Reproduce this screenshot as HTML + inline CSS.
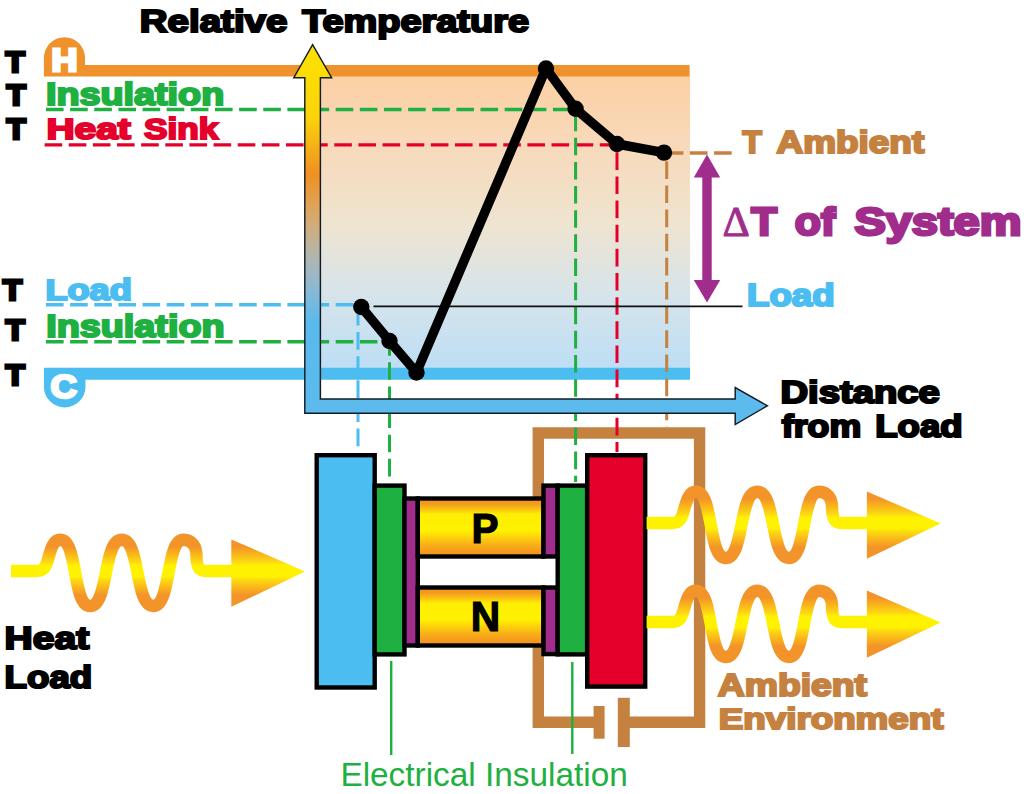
<!DOCTYPE html>
<html lang="en"><head><meta charset="utf-8"><title>Thermoelectric system temperature profile</title>
<style>
html,body{margin:0;padding:0;background:#fff;}
body{width:1024px;height:794px;overflow:hidden;font-family:"Liberation Sans",sans-serif;}
svg{display:block;font-family:"Liberation Sans",sans-serif;}
</style></head><body>
<svg width="1024" height="794" viewBox="0 0 1024 794">
<defs>
<linearGradient id="bg" x1="0" y1="0" x2="0" y2="1">
<stop offset="0" stop-color="#FBD0A4"/><stop offset="0.15" stop-color="#FAD6B3"/><stop offset="0.5" stop-color="#EFE4D0"/><stop offset="0.75" stop-color="#D6E4EA"/><stop offset="1" stop-color="#BDDEF5"/></linearGradient>
<linearGradient id="axis" gradientUnits="userSpaceOnUse" x1="0" y1="44" x2="0" y2="426">
<stop offset="0" stop-color="#FCE200"/><stop offset="0.19" stop-color="#FBD40A"/><stop offset="0.34" stop-color="#F09022"/><stop offset="0.408" stop-color="#E2A04E"/><stop offset="0.474" stop-color="#D2AC7A"/><stop offset="0.54" stop-color="#B8B5A5"/><stop offset="0.605" stop-color="#9CB8C6"/><stop offset="0.67" stop-color="#7BB9DD"/><stop offset="0.73" stop-color="#5ABAEC"/><stop offset="1" stop-color="#5CBBEC"/></linearGradient>
<linearGradient id="bar" x1="0" y1="0" x2="0" y2="1">
<stop offset="0" stop-color="#F29222"/><stop offset="0.09" stop-color="#F39A20"/><stop offset="0.2" stop-color="#FBC80F"/><stop offset="0.27" stop-color="#FFEE05"/><stop offset="0.55" stop-color="#FFF200"/><stop offset="0.66" stop-color="#FDD50B"/><stop offset="0.8" stop-color="#F9AE18"/><stop offset="0.92" stop-color="#F4981F"/><stop offset="1" stop-color="#F29222"/></linearGradient>
<linearGradient id="heat" gradientUnits="userSpaceOnUse" x1="0" y1="531.0" x2="0" y2="611.0"><stop offset="0" stop-color="#F3942A"/><stop offset="0.2000" stop-color="#F3942A"/><stop offset="0.2625" stop-color="#F8AB1D"/><stop offset="0.3250" stop-color="#FBC118"/><stop offset="0.3875" stop-color="#FDD912"/><stop offset="0.4313" stop-color="#FFF200"/><stop offset="0.5687" stop-color="#FFF200"/><stop offset="0.6125" stop-color="#FDD912"/><stop offset="0.6750" stop-color="#FBC118"/><stop offset="0.7375" stop-color="#F8AB1D"/><stop offset="0.8000" stop-color="#F3942A"/><stop offset="1" stop-color="#F3942A"/></linearGradient>
<g id="heatwave"><path d="M11,571.0 L36.5,571.0 C43.64,571.0 46.02,566.94 48.16,558.83 C51.26,547.29 53.64,539.8 60.3,539.8 C78.12,539.8 72.18,606.0 90.0,606.0 C109.08,606.0 102.72,539.8 121.8,539.8 C140.70,539.8 134.40,606.0 153.3,606.0 C171.48,606.0 165.42,539.8 183.6,539.8 C191.58,539.8 196.52,546.04 196.52,556.02 C196.52,566.63 198.80,571.0 205.45,571.0 L232.5,571.0" fill="none" stroke="url(#heat)" stroke-width="12.4" stroke-linejoin="round"/><polygon points="231.3,539.4 305,571.4 231.3,606.8" fill="url(#heat)"/></g>
</defs>
<rect x="0" y="0" width="1024" height="794" fill="#fff"/>
<rect x="320" y="76" width="370" height="293" fill="url(#bg)"/>
<path d="M43.9,76.6 L43.9,57.8 A20.55,20.5 0 0 1 85,57.8 L85,65.1 L689.6,65.1 L689.6,76.6 Z" fill="#F0922B"/>
<path d="M43.9,367.8 L690,367.8 L690,379.7 L85.5,379.7 L85.5,386.8 A20.8,20.6 0 0 1 43.9,386.8 Z" fill="#4CBDF0"/>
<g fill="none" stroke-width="3.4" stroke-dasharray="17.6 6.54">
<path d="M46,109.5 H575" stroke="#1EB040"/>
<path d="M44.6,144.9 H616" stroke="#E4002B"/>
<path d="M46,304.7 H360" stroke="#4CBDF0"/>
<path d="M46,341.8 H389" stroke="#1EB040"/>
<path d="M665.8,153 H731.7" stroke="#C5813F"/>
</g>
<path d="M538.3,500 V433 H699.6 V722.3 H629" fill="none" stroke="#C5813F" stroke-width="11.4"/>
<path d="M538.3,645 V722.3 H594" fill="none" stroke="#C5813F" stroke-width="11.4"/>
<rect x="593.6" y="706" width="11" height="32.7" fill="#C5813F"/>
<rect x="617.8" y="697.8" width="12" height="49.2" fill="#C5813F"/>
<g fill="none" stroke-width="3" stroke-dasharray="17.6 6.54">
<path d="M358,307.9 V446.2" stroke="#4CBDF0"/>
<path d="M389.5,338.1 V478" stroke="#1EB040"/>
<path d="M575.6,113.6 V482" stroke="#1EB040"/>
<path d="M617,152.3 V452" stroke="#E4002B"/>
<path d="M666.7,161.3 V427" stroke="#C5813F"/>
</g>
<path d="M373.5,306.3 H742.5" stroke="#111" stroke-width="1.8" fill="none"/>
<path d="M312.6,44.6 L331.6,77.7 L320.4,77.7 L320.4,398.9 L735.2,398.9 L735.2,387.6 L767.4,405.8 L735.2,424.6 L735.2,413.2 L304.8,413.2 L304.8,77.7 L293.8,77.7 Z" fill="url(#axis)" stroke="#131c24" stroke-width="1.45" stroke-linejoin="miter"/>
<polyline points="361.3,307 389.5,341 416.5,372.5 546,68.5 575.6,108.8 617,144 664,152.6" fill="none" stroke="#000" stroke-width="9.5" stroke-linejoin="round" stroke-linecap="round"/>
<circle cx="361.3" cy="307" r="8.2" fill="#000"/><circle cx="389.5" cy="341" r="8.2" fill="#000"/><circle cx="416.5" cy="372.5" r="8.2" fill="#000"/><circle cx="546" cy="68.5" r="8.2" fill="#000"/><circle cx="575.6" cy="108.8" r="8.2" fill="#000"/><circle cx="617" cy="144" r="8.2" fill="#000"/><circle cx="664" cy="152.6" r="8.2" fill="#000"/>
<path d="M707,154.6 L720.2,177.5 L711.7,177.5 L711.7,280 L720.2,280 L707,302.6 L693.8,280 L702.3,280 L702.3,177.5 L693.8,177.5 Z" fill="#A02C8C"/>
<rect x="316.7" y="455.2" width="58" height="232.3" fill="#4CBDF0" stroke="#000" stroke-width="4.4"/>
<rect x="374.7" y="485.6" width="29.8" height="168.8" fill="#1EB040" stroke="#000" stroke-width="4.4"/>
<rect x="404.5" y="498.5" width="13.3" height="147" fill="#A02C8C" stroke="#000" stroke-width="4.4"/>
<rect x="417.8" y="498.5" width="125.7" height="58" fill="url(#bar)" stroke="#000" stroke-width="4.4"/>
<rect x="417.8" y="587.5" width="125.7" height="58" fill="url(#bar)" stroke="#000" stroke-width="4.4"/>
<rect x="543.5" y="485.6" width="14.2" height="70.9" fill="#A02C8C" stroke="#000" stroke-width="4.4"/>
<rect x="543.5" y="587.5" width="14.2" height="66.6" fill="#A02C8C" stroke="#000" stroke-width="4.4"/>
<rect x="557.7" y="485.6" width="29.4" height="168.8" fill="#1EB040" stroke="#000" stroke-width="4.4"/>
<rect x="587.2" y="455.2" width="58" height="231.4" fill="#E4002B" stroke="#000" stroke-width="4.4"/>
<text x="471.6" y="543.45" font-size="42.03" font-weight="bold" fill="#000" stroke="#000" stroke-width="1.2" stroke-linejoin="miter" stroke-miterlimit="3" textLength="27.0" lengthAdjust="spacingAndGlyphs">P</text>
<text x="470.8" y="630.75" font-size="42.61" font-weight="bold" fill="#000" stroke="#000" stroke-width="1.2" stroke-linejoin="miter" stroke-miterlimit="3" textLength="29.4" lengthAdjust="spacingAndGlyphs">N</text>
<use href="#heatwave" transform="translate(635.6,-48)"/>
<use href="#heatwave" transform="translate(635.6,51)"/>
<use href="#heatwave"/>
<path d="M391.2,661 V755 M572.3,662 V754" stroke="#1EB040" stroke-width="2.4" fill="none"/>
<text x="139.8" y="31.9" font-size="31.01" font-weight="bold" fill="#000" stroke="#000" stroke-width="2.1" stroke-linejoin="miter" stroke-miterlimit="3" textLength="147.6" lengthAdjust="spacingAndGlyphs">Relative</text>
<text x="302.2" y="31.9" font-size="31.01" font-weight="bold" fill="#000" stroke="#000" stroke-width="2.1" stroke-linejoin="miter" stroke-miterlimit="3" textLength="226.8" lengthAdjust="spacingAndGlyphs">Temperature</text>
<text x="5.6" y="72.15" font-size="30.29" font-weight="bold" fill="#000" stroke="#000" stroke-width="2.8" stroke-linejoin="miter" stroke-miterlimit="3" textLength="19.4" lengthAdjust="spacingAndGlyphs">T</text>
<text x="6.5" y="105.25" font-size="30.29" font-weight="bold" fill="#000" stroke="#000" stroke-width="2.8" stroke-linejoin="miter" stroke-miterlimit="3" textLength="19.4" lengthAdjust="spacingAndGlyphs">T</text>
<text x="6.5" y="139.35" font-size="30.29" font-weight="bold" fill="#000" stroke="#000" stroke-width="2.8" stroke-linejoin="miter" stroke-miterlimit="3" textLength="19.4" lengthAdjust="spacingAndGlyphs">T</text>
<text x="2.7" y="300.15" font-size="30.29" font-weight="bold" fill="#000" stroke="#000" stroke-width="2.8" stroke-linejoin="miter" stroke-miterlimit="3" textLength="19.4" lengthAdjust="spacingAndGlyphs">T</text>
<text x="5.5" y="340.45" font-size="30.29" font-weight="bold" fill="#000" stroke="#000" stroke-width="2.8" stroke-linejoin="miter" stroke-miterlimit="3" textLength="19.4" lengthAdjust="spacingAndGlyphs">T</text>
<text x="5.6" y="384.75" font-size="30.29" font-weight="bold" fill="#000" stroke="#000" stroke-width="2.8" stroke-linejoin="miter" stroke-miterlimit="3" textLength="19.4" lengthAdjust="spacingAndGlyphs">T</text>
<text x="51.4" y="70.75" font-size="30.72" font-weight="bold" fill="#fff" stroke="#fff" stroke-width="2.8" stroke-linejoin="miter" stroke-miterlimit="3" textLength="26.0" lengthAdjust="spacingAndGlyphs">H</text>
<text x="50.4" y="397.65" font-size="33.77" font-weight="bold" fill="#fff" stroke="#fff" stroke-width="2.6" stroke-linejoin="miter" stroke-miterlimit="3" textLength="26.4" lengthAdjust="spacingAndGlyphs">C</text>
<text x="46.0" y="104.5" font-size="30.87" font-weight="bold" fill="#1EB040" stroke="#1EB040" stroke-width="2.1" stroke-linejoin="miter" stroke-miterlimit="3" textLength="178.2" lengthAdjust="spacingAndGlyphs">Insulation</text>
<text x="46.4" y="139.2" font-size="30.29" font-weight="bold" fill="#E4002B" stroke="#E4002B" stroke-width="2.1" stroke-linejoin="miter" stroke-miterlimit="3" textLength="84.4" lengthAdjust="spacingAndGlyphs">Heat</text>
<text x="144.0" y="139.2" font-size="30.29" font-weight="bold" fill="#E4002B" stroke="#E4002B" stroke-width="2.1" stroke-linejoin="miter" stroke-miterlimit="3" textLength="74.2" lengthAdjust="spacingAndGlyphs">Sink</text>
<text x="45.4" y="300.1" font-size="29.13" font-weight="bold" fill="#4CBDF0" stroke="#4CBDF0" stroke-width="2.1" stroke-linejoin="miter" stroke-miterlimit="3" textLength="86.4" lengthAdjust="spacingAndGlyphs">Load</text>
<text x="46.3" y="336.8" font-size="30.87" font-weight="bold" fill="#1EB040" stroke="#1EB040" stroke-width="2.1" stroke-linejoin="miter" stroke-miterlimit="3" textLength="178.2" lengthAdjust="spacingAndGlyphs">Insulation</text>
<text x="742.4" y="153.0" font-size="30.43" font-weight="bold" fill="#C5813F" stroke="#C5813F" stroke-width="2.1" stroke-linejoin="miter" stroke-miterlimit="3" textLength="19.4" lengthAdjust="spacingAndGlyphs">T</text>
<text x="776.6" y="153.0" font-size="30.43" font-weight="bold" fill="#C5813F" stroke="#C5813F" stroke-width="2.1" stroke-linejoin="miter" stroke-miterlimit="3" textLength="147.6" lengthAdjust="spacingAndGlyphs">Ambient</text>
<text x="722.6" y="236" font-size="42.5" font-family="'Liberation Serif',serif" fill="#A02C8C" stroke="#A02C8C" stroke-width="0.9">Δ</text>
<text x="751.2" y="234.85" font-size="39.42" font-weight="bold" fill="#A02C8C" stroke="#A02C8C" stroke-width="2.8" stroke-linejoin="miter" stroke-miterlimit="3" textLength="25.8" lengthAdjust="spacingAndGlyphs">T</text>
<text x="794.8" y="234.85" font-size="39.42" font-weight="bold" fill="#A02C8C" stroke="#A02C8C" stroke-width="2.8" stroke-linejoin="miter" stroke-miterlimit="3" textLength="40.4" lengthAdjust="spacingAndGlyphs">of</text>
<text x="854.4" y="234.65" font-size="38.84" font-weight="bold" fill="#A02C8C" stroke="#A02C8C" stroke-width="2.8" stroke-linejoin="miter" stroke-miterlimit="3" textLength="167.0" lengthAdjust="spacingAndGlyphs">System</text>
<text x="747.0" y="305.8" font-size="30.87" font-weight="bold" fill="#4CBDF0" stroke="#4CBDF0" stroke-width="2.1" stroke-linejoin="miter" stroke-miterlimit="3" textLength="87.6" lengthAdjust="spacingAndGlyphs">Load</text>
<text x="780.4" y="403.0" font-size="30.43" font-weight="bold" fill="#000" stroke="#000" stroke-width="2.1" stroke-linejoin="miter" stroke-miterlimit="3" textLength="159.4" lengthAdjust="spacingAndGlyphs">Distance</text>
<text x="781.8" y="436.5" font-size="30.58" font-weight="bold" fill="#000" stroke="#000" stroke-width="2.1" stroke-linejoin="miter" stroke-miterlimit="3" textLength="79.4" lengthAdjust="spacingAndGlyphs">from</text>
<text x="875.2" y="436.5" font-size="30.58" font-weight="bold" fill="#000" stroke="#000" stroke-width="2.1" stroke-linejoin="miter" stroke-miterlimit="3" textLength="87.4" lengthAdjust="spacingAndGlyphs">Load</text>
<text x="4.6" y="648.8" font-size="31.45" font-weight="bold" fill="#000" stroke="#000" stroke-width="2.1" stroke-linejoin="miter" stroke-miterlimit="3" textLength="84.6" lengthAdjust="spacingAndGlyphs">Heat</text>
<text x="4.6" y="688.0" font-size="31.16" font-weight="bold" fill="#000" stroke="#000" stroke-width="2.1" stroke-linejoin="miter" stroke-miterlimit="3" textLength="87.6" lengthAdjust="spacingAndGlyphs">Load</text>
<text x="717.8" y="695.8" font-size="30.58" font-weight="bold" fill="#C5813F" stroke="#C5813F" stroke-width="2.1" stroke-linejoin="miter" stroke-miterlimit="3" textLength="149.2" lengthAdjust="spacingAndGlyphs">Ambient</text>
<text x="718.8" y="729.0" font-size="29.57" font-weight="bold" fill="#C5813F" stroke="#C5813F" stroke-width="2.1" stroke-linejoin="miter" stroke-miterlimit="3" textLength="224.6" lengthAdjust="spacingAndGlyphs">Environment</text>
<text x="340.4" y="786.15" font-size="32.46" font-weight="normal" fill="#1EB040" textLength="287.4" lengthAdjust="spacingAndGlyphs">Electrical Insulation</text>
</svg>
</body></html>
